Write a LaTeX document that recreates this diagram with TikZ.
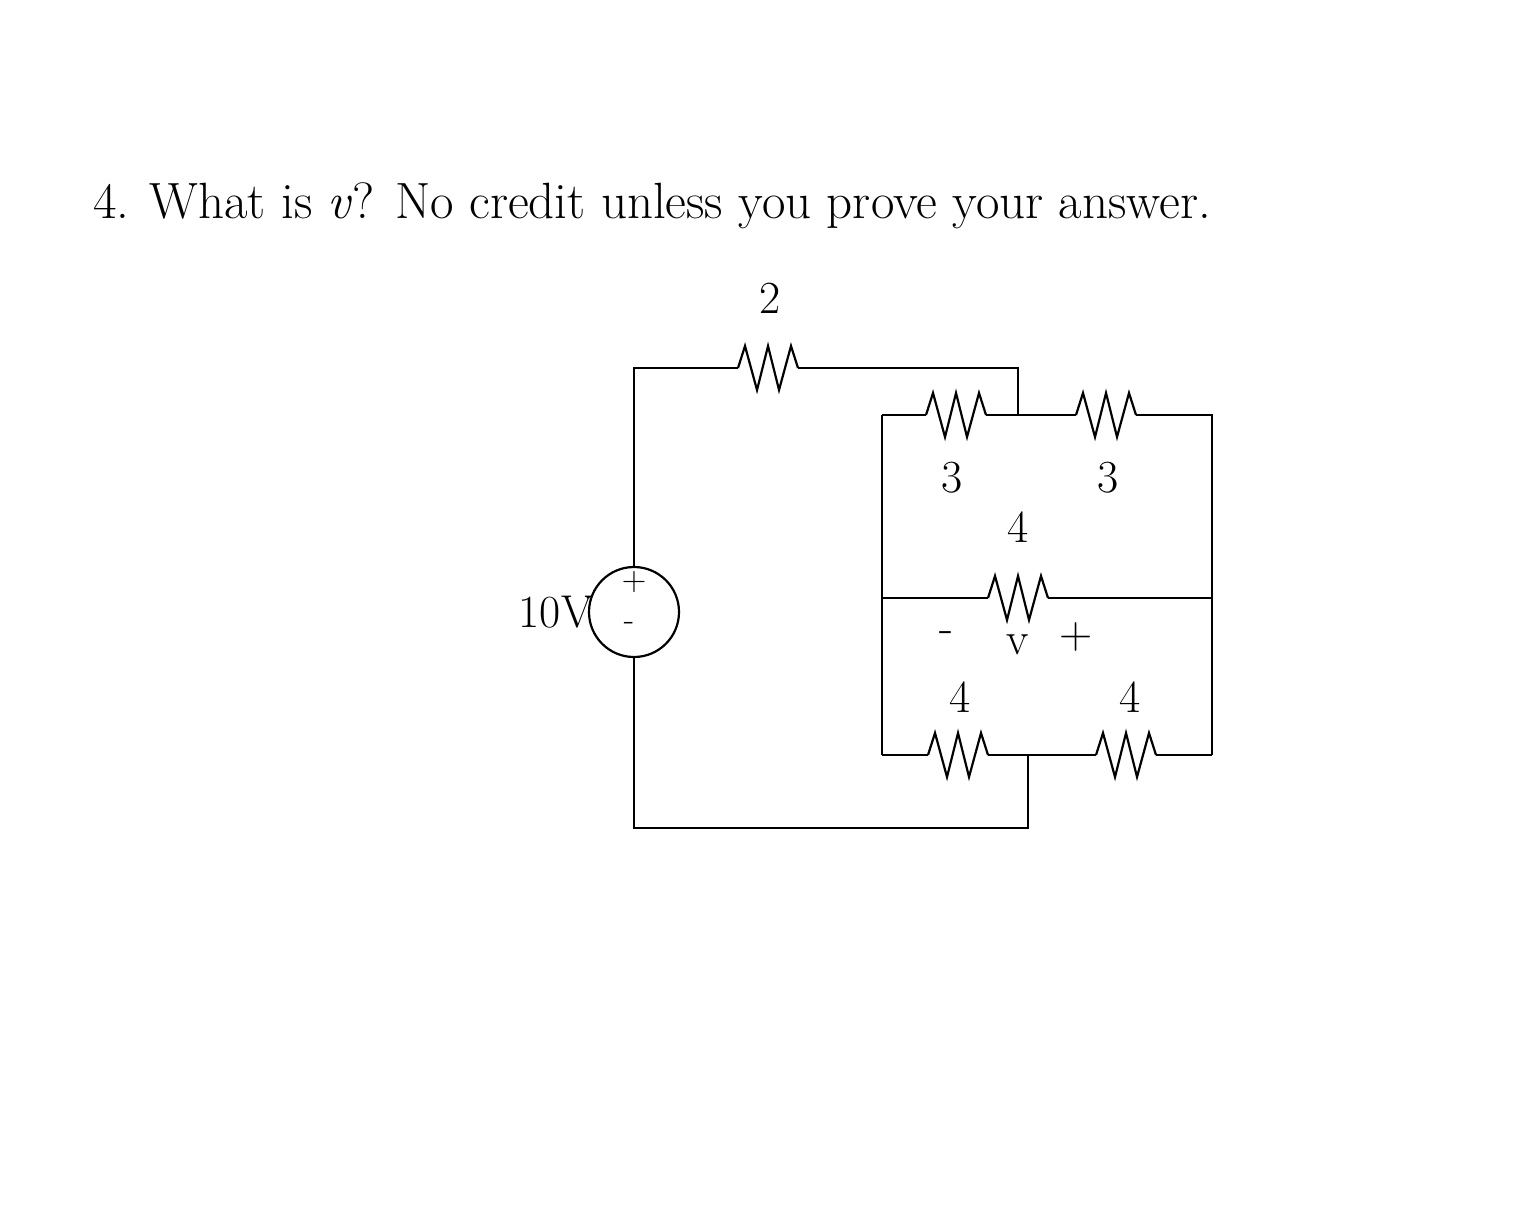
\documentclass[tikz,border=0pt]{standalone}
\usepackage{fontspec}
\setmainfont{Latin Modern Roman}
\begin{document}
\begin{tikzpicture}[x=1pt,y=-1pt,line width=2.2pt,
  lbl/.style={font=\fontsize{46}{50}\selectfont,inner sep=0pt},
  sml/.style={font=\fontsize{34}{36}\selectfont,inner sep=0pt},
  res/.pic={\draw (0,0)--(7,-22)--(19,22)--(30,-22)--(41,22)--(53,-22)--(60,0);}]
\useasboundingbox (0,0) rectangle (1520,1229);
\node[anchor=west,inner sep=0pt,font=\fontsize{51}{55}\selectfont] (title) at (92,206) {4. What is \textit{v}? No credit unless you prove your answer.};
% source
\node[circle,draw,minimum size=90pt,inner sep=0pt] (src) at (634,612) {};
\node[sml] (sp) at (634,582) {+};
\node[sml] (sm) at (629,626) {-};
\node[lbl,anchor=east] (sv) at (594,612) {10V};
% coordinates
\coordinate (tl) at (634,368);
\coordinate (tr) at (1018,368);
\coordinate (tm) at (1018,415);
\coordinate (ul) at (882,415);
\coordinate (ur) at (1212,415);
\coordinate (ml) at (882,598);
\coordinate (mr) at (1212,598);
\coordinate (bl) at (882,755);
\coordinate (br) at (1212,755);
\coordinate (bm) at (1028,755);
\coordinate (gr) at (1028,828);
\coordinate (gl) at (634,828);
% wires
\draw (src.north) -- (tl) -- (738,368);
\pic at (738,368) {res};
\draw (798,368) -- (tr) -- (tm);
\draw (ul) -- (926,415); \pic at (926,415) {res}; \draw (986,415) -- (1076,415);
\pic at (1076,415) {res}; \draw (1136,415) -- (ur) -- (mr);
\draw (ul) -- (bl);
\draw (ml) -- (988,598); \pic at (988,598) {res}; \draw (1048,598) -- (mr);
\draw (mr) -- (br);
\draw (bl) -- (928,755); \pic at (928,755) {res}; \draw (988,755) -- (1096,755);
\pic at (1096,755) {res}; \draw (1156,755) -- (br);
\draw (bm) -- (gr) -- (gl) -- (src.south);
% labels
\node[lbl] (l2) at (770,298) {2};
\node[lbl] (l3a) at (952,478) {3};
\node[lbl] (l3b) at (1108,478) {3};
\node[lbl] (l4m) at (1018,527) {4};
\node[lbl] (vm) at (946,637) {-};
\node[lbl] (vv) at (1018,645) {v};
\node[lbl] (vp) at (1076,637) {+};
\node[lbl] (l4a) at (960,697) {4};
\node[lbl] (l4b) at (1130,697) {4};
\end{tikzpicture}
\end{document}
